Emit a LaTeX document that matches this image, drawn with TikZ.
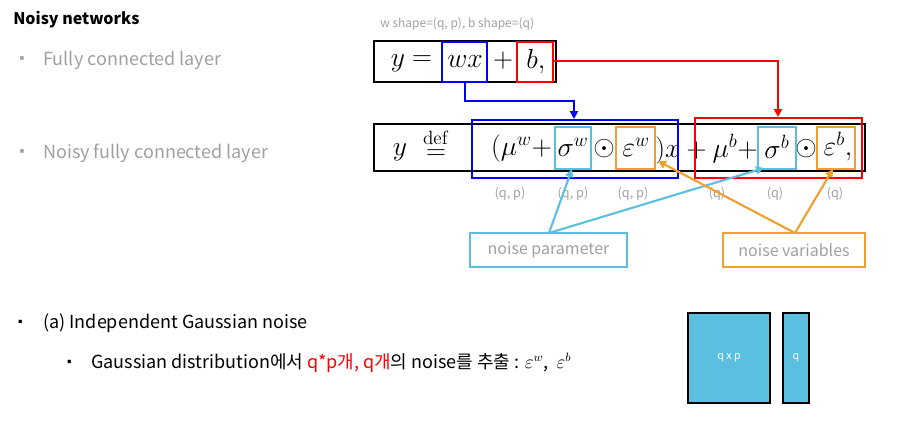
\documentclass[tikz,border=0pt]{standalone}
\usepackage[no-math]{fontspec}
\usepackage{amsmath}
\setmainfont{Noto Sans CJK KR}
\usetikzlibrary{arrows.meta}
\definecolor{cy}{HTML}{5BC0E0}
\definecolor{org}{HTML}{F0A030}
\definecolor{gr}{HTML}{A0A0A0}
\begin{document}
\begin{tikzpicture}[x=0.75pt,y=-0.75pt,
  m/.style={inner sep=0pt,font=\fontsize{22}{24}\selectfont},
  lab/.style={inner sep=0pt,text=gr,font=\fontsize{9}{10}\selectfont},
  bx/.style={line width=1.6pt},
  arr/.style={line width=1.6pt,-{Triangle[length=6pt,width=6pt]}}]
\useasboundingbox (0,0) rectangle (910,435);
\node[anchor=west,inner sep=0pt,font=\bfseries\fontsize{12}{14}\selectfont] (t) at (13,20) {Noisy networks};
\node[anchor=west,inner sep=0pt,text=gr,font=\fontsize{10}{12}\selectfont] (b1) at (15,60) {▪};
\node[anchor=west,inner sep=0pt,text=gr,font=\fontsize{13.5}{16}\selectfont] (l1) at (43,60) {Fully connected layer};
\node[anchor=west,inner sep=0pt,text=gr,font=\fontsize{10}{12}\selectfont] (b2) at (15,153) {▪};
\node[anchor=west,inner sep=0pt,text=gr,font=\fontsize{13.5}{16}\selectfont] (l2) at (43,153) {Noisy fully connected layer};
\node[anchor=west,lab] (sh) at (380,24) {w shape=(q, p), b shape=(q)};
% top formula
\draw[line width=0.8pt] (374,41) rectangle (556,82);
\node[m] (y1) at (398,63) {$y$};
\node[m] (e1) at (422,61) {$=$};
\node[m] (wx) at (465,62) {$wx$};
\node[m] (p1) at (503,61) {$+$};
\node[m] (bb) at (536,62) {$b,$};
\draw[bx,blue] (442,42) rectangle (487,82);
\draw[bx,red] (517,42) rectangle (553,82);
% bottom formula
\draw[line width=0.8pt] (374,124) rectangle (865,171);
\node[m] (y2) at (400,152) {$y$};
\node[m] (df) at (436,144) {$\stackrel{\mathrm{def}}{=}$};
\node[m,anchor=east] (mw) at (552,149) {$(\mu^w+$};
\node[m] (sw) at (573,147) {$\sigma^w$};
\node[m] (o1) at (604,149) {$\odot$};
\node[m] (ew) at (636,147) {$\varepsilon^w$};
\node[m,anchor=west] (xx) at (655,149) {$)x+\mu^b+$};
\node[m] (sb) at (777,147) {$\sigma^b$};
\node[m] (o2) at (806,149) {$\odot$};
\node[m] (eb) at (838,147) {$\varepsilon^b,$};
\draw[bx,blue] (472,120) rectangle (678,178);
\draw[bx,red] (695,118) rectangle (862,178);
\draw[bx,cy] (555,127) rectangle (591,169);
\draw[bx,org] (616,127) rectangle (655,169);
\draw[bx,cy] (758,127) rectangle (796,169);
\draw[bx,org] (817,127) rectangle (855,169);
\coordinate (swb) at (572,169); \coordinate (ewb) at (658,161);
\coordinate (sbb) at (764,168); \coordinate (ebb) at (833,169);
\foreach \x/\t in {510/{(q, p)},573/{(q, p)},633/{(q, p)},717/{(q)},775/{(q)},835/{(q)}}
  \node[lab,font=\fontsize{9.5}{10}\selectfont] at (\x,194) {\t};
% connectors
\draw[arr,blue] (465,82) -- (465,101) -- (574,101) -- (574,119);
\draw[arr,red] (553,61) -- (778,61) -- (778,117);
\node[draw=cy,line width=2pt,text=gr,minimum width=157pt*0.75,minimum height=34pt*0.75,inner sep=0pt,font=\fontsize{12}{14}\selectfont] (np) at (548.5,250) {noise parameter};
\node[draw=org,line width=2pt,text=gr,minimum width=142pt*0.75,minimum height=34pt*0.75,inner sep=0pt,font=\fontsize{12}{14}\selectfont] (nv) at (794,250) {noise variables};
\draw[arr,cy] (549,233) -- (swb);
\draw[arr,cy] (549,233) -- (sbb);
\draw[arr,org] (795,233) -- (ewb);
\draw[arr,org] (795,233) -- (ebb);
% bottom
\node[anchor=west,inner sep=0pt,font=\fontsize{9}{10}\selectfont] (b3) at (14,323) {▪};
\node[anchor=west,inner sep=0pt,font=\fontsize{13.5}{16}\selectfont] (l3) at (43,323) {(a) Independent Gaussian noise};
\node[anchor=west,inner sep=0pt,font=\fontsize{9}{10}\selectfont] (b4) at (63,363) {▪};
\node[anchor=west,inner sep=0pt,font=\fontsize{13.5}{16}\selectfont] (l4) at (91,363) {Gaussian distribution에서 \textcolor{red}{q*p개, q개}의 noise를 추출 : $\varepsilon^w$,\ \ $\varepsilon^b$};
\node[draw,fill=cy,line width=0.8pt,minimum width=61.5pt,minimum height=67.5pt,inner sep=0pt,text=white,font=\fontsize{8}{9}\selectfont] (qp) at (729,358) {q x p};
\node[draw,fill=cy,line width=0.8pt,minimum width=19.5pt,minimum height=67.5pt,inner sep=0pt,text=white,font=\fontsize{8}{9}\selectfont] (qq) at (796,358) {q};
\end{tikzpicture}
\end{document}
